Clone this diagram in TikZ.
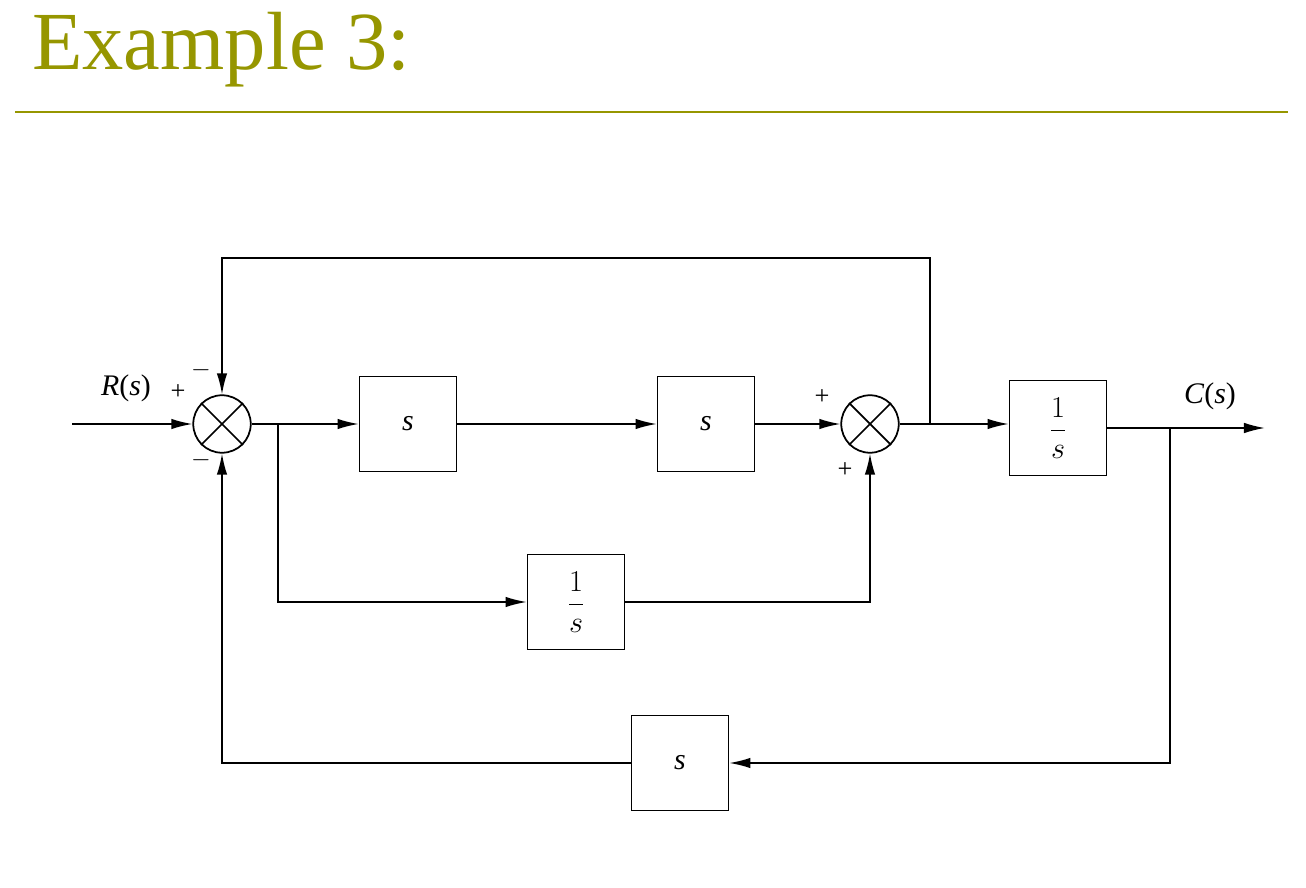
\documentclass[tikz,border=0pt]{standalone}
\usepackage{fontspec}
\setmainfont{Liberation Serif}
\usetikzlibrary{arrows.meta}
\definecolor{olive}{RGB}{150,150,0}
\begin{document}
\begin{tikzpicture}[x=0.02cm,y=-0.02cm,
  blk/.style={draw,line width=1pt,minimum width=1.94cm,minimum height=1.9cm,font=\fontsize{17}{19}\selectfont\itshape},
  sumj/.style={draw,line width=1pt,circle,minimum size=1.15cm,inner sep=0pt},
  sig/.style={line width=0.9pt,-{Latex[length=12pt,width=6pt]}},
  lbl/.style={font=\fontsize{15}{17}\selectfont}]
\useasboundingbox (0,0) rectangle (1306,888);
\node[anchor=west,text=olive,font=\fontsize{47}{52}\selectfont] (title) at (26,50) {Example 3:};
\draw[olive,line width=1.5pt] (15,112) -- (1288,112);
\node[sumj] (s1) at (222,424) {};
\draw[line width=1pt] (s1.north west) -- (s1.south east) (s1.north east) -- (s1.south west);
\node[sumj] (s2) at (870,424) {};
\draw[line width=1pt] (s2.north west) -- (s2.south east) (s2.north east) -- (s2.south west);
\node[blk] (b1) at (408,424) {s};
\node[blk] (b2) at (706,424) {s};
\node[blk] (b3) at (1058,428) {\fontsize{17}{19}\selectfont$\displaystyle\frac{1}{s}$};
\node[blk] (b4) at (576,602) {\fontsize{17}{19}\selectfont$\displaystyle\frac{1}{s}$};
\node[blk] (b5) at (680,763) {s};
\coordinate (in) at (72,424);
\coordinate (out) at (1265,428);
\coordinate (p1) at (278,424);
\coordinate (p2) at (930,424);
\coordinate (p3) at (1170,428);
\coordinate (top) at (930,258);
\draw[sig] (in) -- (s1);
\draw[sig] (s1) -- (b1);
\draw[sig] (b1) -- (b2);
\draw[sig] (b2) -- (s2);
\draw[sig] (s2.east) -- (s2.east-|b3.west);
\draw[sig] (b3.east|-out) -- (out);
\draw[sig] (p1) |- (b4);
\draw[sig] (b4) -| (s2);
\draw[sig] (p2) -- (top) -| (s1);
\draw[sig] (p3) |- (b5);
\draw[sig] (b5) -| (s1);
\node[lbl,font=\fontsize{17}{19}\selectfont] (R) at (126,388) {\textit{R}(\textit{s})};
\node[lbl] (pl1) at (178,392) {+};
\node[lbl] (mi1) at (201,370) {$-$};
\node[lbl] (mi2) at (201,460) {$-$};
\node[lbl] (pl2) at (822,397) {+};
\node[lbl] (pl3) at (845,470) {+};
\node[lbl,font=\fontsize{17}{19}\selectfont] (C) at (1210,396) {\textit{C}(\textit{s})};
\end{tikzpicture}
\end{document}
